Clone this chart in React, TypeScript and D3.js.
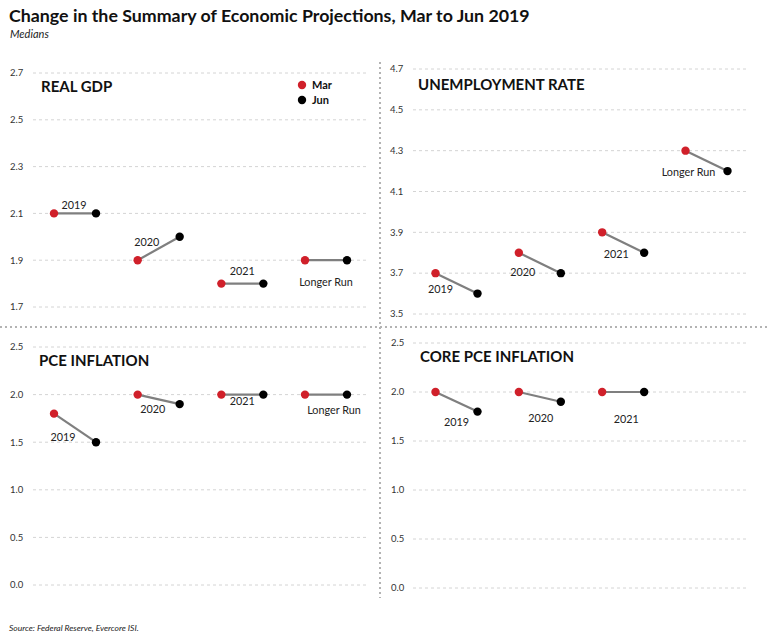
import React from 'react';
import * as d3 from 'd3';

// ---- data ----
const categories = ['2019', '2020', '2021', 'Longer Run'];

const gdpMar = [2.1, 1.9, 1.8, 1.9];
const gdpJun = [2.1, 2.0, 1.8, 1.9];
const gdpTicks = [1.7, 1.9, 2.1, 2.3, 2.5, 2.7];

const unempMar = [3.7, 3.8, 3.9, 4.3];
const unempJun = [3.6, 3.7, 3.8, 4.2];
const unempTicks = [3.5, 3.7, 3.9, 4.1, 4.3, 4.5, 4.7];

const pceMar = [1.8, 2.0, 2.0, 2.0];
const pceJun = [1.5, 1.9, 2.0, 2.0];
const pceTicks = [0, 0.5, 1.0, 1.5, 2.0, 2.5];

const corePceMar = [2.0, 2.0, 2.0];
const corePceJun = [1.8, 1.9, 2.0];
const corePceTicks = [0, 0.5, 1.0, 1.5, 2.0, 2.5];

// label nudges from segment midpoint (styling)
const gdpLabelOffsets = [[-1, -8], [-12, -6], [0, -12], [0, 22]];
const unempLabelOffsets = [[-16, 6], [-17, 9], [-7, 12], [-18, 11]];
const pceLabelOffsets = [[-12, 9], [-6, 9.5], [0, 7], [8, 16]];
const corePceLabelOffsets = [[0, 20], [1, 21], [3, 27]];

const RED = '#d0202a';
const FONT = 'Lato, "Open Sans", sans-serif';

type PanelProps = {
  title: string;
  titleX: number;
  titleY: number;
  mar: number[];
  jun: number[];
  ticks: number[];
  fmt: (v: number) => string;
  yTop: number;
  yBottom: number;
  xRange: [number, number];
  gridX: [number, number];
  tickX: number;
  offsets: number[][];
};

const Panel = (p: PanelProps) => {
  const y = d3
    .scaleLinear()
    .domain([p.ticks[0], p.ticks[p.ticks.length - 1]])
    .range([p.yBottom, p.yTop]);
  const x = d3.scalePoint<string>().domain(categories).range(p.xRange);
  const half = 21;
  const line = d3.line<[number, number]>();

  return (
    <g>
      {p.ticks.map((t) => (
        <g key={t}>
          <line
            x1={p.gridX[0]}
            x2={p.gridX[1]}
            y1={y(t)}
            y2={y(t)}
            stroke="#d4d4d4"
            strokeWidth={1}
            strokeDasharray="3,3"
          />
          <text x={p.tickX} y={y(t)} dy="0.35em" fontSize={9.5} fill="#333" fontFamily={FONT}>
            {p.fmt(t)}
          </text>
        </g>
      ))}
      <text x={p.titleX} y={p.titleY} fontSize={15} fontWeight="bold" fill="#111" fontFamily={FONT}>
        {p.title}
      </text>
      {p.mar.map((m, i) => {
        const cx = x(categories[i]) as number;
        const x0 = cx - half;
        const x1 = cx + half;
        const y0 = y(m);
        const y1 = y(p.jun[i]);
        const [dx, dy] = p.offsets[i];
        return (
          <g key={i}>
            <path
              d={line([[x0, y0], [x1, y1]]) || ''}
              stroke="#7f7f7f"
              strokeWidth={2.2}
              fill="none"
            />
            <circle cx={x0} cy={y0} r={4.2} fill={RED} />
            <circle cx={x1} cy={y1} r={4.2} fill="#000" />
            <text
              x={(x0 + x1) / 2 + dx}
              y={(y0 + y1) / 2 + dy}
              dy="0.35em"
              textAnchor="middle"
              fontSize={10.8}
              fill="#222"
              fontFamily={FONT}
            >
              {categories[i]}
            </text>
          </g>
        );
      })}
    </g>
  );
};

const App = () => {
  const f1 = (v: number) => d3.format('.1f')(v);
  return (
    <svg
      width={768}
      height={643}
      style={{ position: 'absolute', left: 0, top: 0, background: '#fff' }}
    >
      <text x={9} y={22} fontSize={17.8} fontWeight="bold" fill="#111" fontFamily={FONT}>
        Change in the Summary of Economic Projections, Mar to Jun 2019
      </text>
      <text x={10} y={38} fontSize={11} fontStyle="italic" fill="#222" fontFamily={FONT}>
        Medians
      </text>

      {/* separators */}
      <line x1={0} x2={768} y1={327} y2={327} stroke="#b3b3b3" strokeWidth={2} strokeDasharray="2,3" />
      <line x1={380} x2={380} y1={62} y2={598} stroke="#b3b3b3" strokeWidth={2} strokeDasharray="2,3" />

      <Panel
        title="REAL GDP"
        titleX={41}
        titleY={92}
        mar={gdpMar}
        jun={gdpJun}
        ticks={gdpTicks}
        fmt={f1}
        yTop={73}
        yBottom={307}
        xRange={[75, 326]}
        gridX={[33, 366]}
        tickX={10}
        offsets={gdpLabelOffsets}
      />
      <Panel
        title="UNEMPLOYMENT RATE"
        titleX={418}
        titleY={90}
        mar={unempMar}
        jun={unempJun}
        ticks={unempTicks}
        fmt={f1}
        yTop={69}
        yBottom={314}
        xRange={[456.5, 706.5]}
        gridX={[413, 748]}
        tickX={390}
        offsets={unempLabelOffsets}
      />
      <Panel
        title="PCE INFLATION"
        titleX={39}
        titleY={366}
        mar={pceMar}
        jun={pceJun}
        ticks={pceTicks}
        fmt={f1}
        yTop={347}
        yBottom={585}
        xRange={[75, 326]}
        gridX={[33, 366]}
        tickX={10}
        offsets={pceLabelOffsets}
      />
      <Panel
        title="CORE PCE INFLATION"
        titleX={420}
        titleY={362}
        mar={corePceMar}
        jun={corePceJun}
        ticks={corePceTicks}
        fmt={f1}
        yTop={343}
        yBottom={588}
        xRange={[456.5, 706.5]}
        gridX={[413, 748]}
        tickX={391}
        offsets={corePceLabelOffsets}
      />

      {/* legend */}
      <circle cx={302} cy={85} r={4.2} fill={RED} />
      <text x={312} y={85} dy="0.35em" fontSize={11} fontWeight="bold" fill="#111" fontFamily={FONT}>
        Mar
      </text>
      <circle cx={302} cy={100} r={4.2} fill="#000" />
      <text x={312} y={100} dy="0.35em" fontSize={11} fontWeight="bold" fill="#111" fontFamily={FONT}>
        Jun
      </text>

      <text x={9} y={631} fontSize={8.5} fontStyle="italic" fill="#222" fontFamily={FONT}>
        Source: Federal Reserve, Evercore ISI.
      </text>
    </svg>
  );
};

export default App;
